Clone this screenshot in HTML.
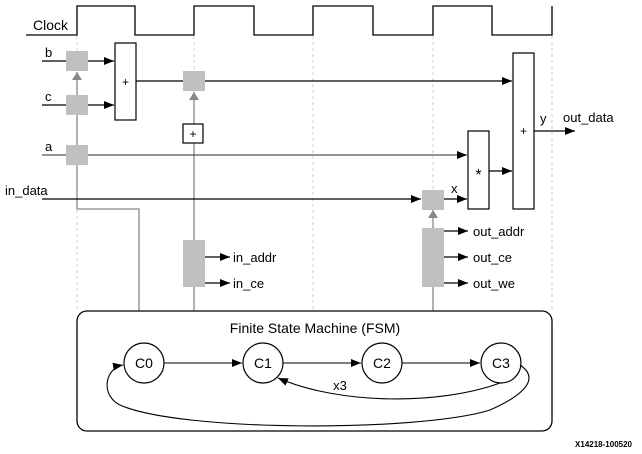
<!DOCTYPE html>
<html><head><style>body{margin:0;background:#fff}svg{display:block}text{font-family:"Liberation Sans",sans-serif;fill:#000}</style></head><body>
<svg width="642" height="454" viewBox="0 0 642 454">
<defs>
<marker id="ah" markerWidth="10" markerHeight="8" refX="10" refY="4" orient="auto" markerUnits="userSpaceOnUse"><path d="M0,0L10,4L0,8z" fill="#000"/></marker>
<marker id="ag" markerWidth="8" markerHeight="10" refX="8" refY="5" orient="auto" markerUnits="userSpaceOnUse"><path d="M0,0L8,5L0,10z" fill="#888"/></marker>
</defs>
<!-- dashed verticals -->
<g stroke="#ccc" stroke-dasharray="3,3" stroke-width="1">
<line x1="77" y1="36" x2="77" y2="311"/><line x1="194" y1="36" x2="194" y2="311"/><line x1="313" y1="36" x2="313" y2="311"/><line x1="433" y1="36" x2="433" y2="311"/><line x1="552" y1="36" x2="552" y2="311"/>
</g>
<!-- clock -->
<polyline points="26,35 77,35 77,6 135,6 135,35 194,35 194,6 254,6 254,35 313,35 313,6 373,6 373,35 433,35 433,6 492,6 492,35 552,35 552,6" fill="none" stroke="#000" stroke-width="1.3"/>
<text x="33" y="30" font-size="14">Clock</text>
<!-- gray control lines -->
<g stroke="#888" stroke-width="1.3" fill="none">
<polyline points="139,311 139,209 77,209 77,72" marker-end="url(#ag)"/>
<line x1="194" y1="311" x2="194" y2="92" marker-end="url(#ag)"/>
<line x1="433" y1="311" x2="433" y2="210" marker-end="url(#ag)"/>
</g>
<!-- data lines -->
<g stroke="#000" stroke-width="1.2" fill="none">
<line x1="42" y1="61" x2="114" y2="61" marker-end="url(#ah)"/>
<line x1="42" y1="105" x2="114" y2="105" marker-end="url(#ah)"/>
<line x1="136" y1="81" x2="512" y2="81" marker-end="url(#ah)"/>
<line x1="42" y1="155" x2="467" y2="155" marker-end="url(#ah)" stroke="#555"/>
<line x1="42" y1="199" x2="421" y2="199" marker-end="url(#ah)"/>
<line x1="443" y1="199" x2="467" y2="199" marker-end="url(#ah)"/>
<line x1="489" y1="171" x2="512" y2="171" marker-end="url(#ah)"/>
<line x1="534" y1="131" x2="575" y2="131" marker-end="url(#ah)"/>
<line x1="205" y1="257" x2="230" y2="257" marker-end="url(#ah)"/>
<line x1="205" y1="283" x2="230" y2="283" marker-end="url(#ah)"/>
<line x1="443" y1="231" x2="468" y2="231" marker-end="url(#ah)"/>
<line x1="443" y1="257" x2="468" y2="257" marker-end="url(#ah)"/>
<line x1="443" y1="283" x2="468" y2="283" marker-end="url(#ah)"/>
</g>
<!-- registers -->
<g fill="#c0c0c0">
<rect x="66" y="51" width="22" height="20"/><rect x="66" y="95" width="22" height="20"/><rect x="66" y="145" width="22" height="20"/>
<rect x="183" y="71" width="22" height="20"/><rect x="183" y="240" width="22" height="47"/>
<rect x="422" y="190" width="22" height="20"/><rect x="422" y="228" width="22" height="59"/>
</g>
<!-- operators -->
<g fill="#fff" stroke="#000" stroke-width="1.2">
<rect x="115" y="43" width="21" height="77"/>
<rect x="183" y="124" width="20" height="19"/>
<rect x="468" y="131" width="21" height="78"/>
<rect x="513" y="53" width="21" height="156"/>
</g>
<g font-size="12" text-anchor="middle">
<text x="125.5" y="86">+</text><text x="193" y="138">+</text><text x="523.5" y="135">+</text><text x="478.5" y="180" font-size="16">*</text>
</g>
<g font-size="13">
<text x="45" y="57">b</text><text x="45" y="101">c</text><text x="45" y="151">a</text><text x="5" y="195">in_data</text>
<text x="540" y="123">y</text><text x="563" y="122">out_data</text><text x="451" y="193">x</text>
<text x="233" y="262">in_addr</text><text x="233" y="288">in_ce</text>
<text x="473" y="236">out_addr</text><text x="473" y="262">out_ce</text><text x="473" y="288">out_we</text>
</g>
<!-- FSM -->
<rect x="77" y="311" width="475" height="120" rx="10" fill="#fff" stroke="#000" stroke-width="1.3"/>
<text x="315" y="333" font-size="14" text-anchor="middle">Finite State Machine (FSM)</text>
<g fill="#fff" stroke="#000" stroke-width="1.2">
<circle cx="144" cy="363" r="20"/><circle cx="263" cy="363" r="20"/><circle cx="382" cy="363" r="20"/><circle cx="501" cy="363" r="20"/>
</g>
<g font-size="14" text-anchor="middle">
<text x="144" y="368">C0</text><text x="263" y="368">C1</text><text x="382" y="368">C2</text><text x="501" y="368">C3</text>
</g>
<g stroke="#000" stroke-width="1.1" fill="none">
<line x1="164" y1="363" x2="242" y2="363" marker-end="url(#ah)"/>
<line x1="283" y1="363" x2="361" y2="363" marker-end="url(#ah)"/>
<line x1="402" y1="363" x2="480" y2="363" marker-end="url(#ah)"/>
<path d="M500,383 C440,405 340,405 278,378" marker-end="url(#ah)"/>
<path d="M520,365 C535,375 535,390 490,410 C420,432 180,432 120,405 C100,395 105,368 123,365" marker-end="url(#ah)"/>
</g>
<text x="340" y="390" font-size="13" text-anchor="middle">x3</text>
<text x="632" y="447" font-size="8" font-weight="bold" text-anchor="end">X14218-100520</text>
</svg>
</body></html>
